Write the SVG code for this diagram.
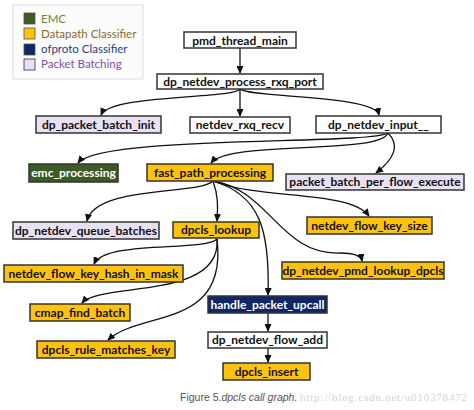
<svg xmlns="http://www.w3.org/2000/svg" width="474" height="410" viewBox="0 0 474 410">
<style>
.n{stroke:#333;stroke-width:1.5}
.w{fill:#ffffff}
.y{fill:#ffc20e}
.p{fill:#e8e0f3}
.g{fill:#3c5a28}
.b{fill:#0f2768}
.t{font-family:Lato,"Open Sans","Liberation Sans",sans-serif;font-weight:bold;font-size:12px;fill:#111;text-anchor:middle}
.tw{fill:#ffffff}
.e{fill:none;stroke:#111;stroke-width:1.3;marker-end:url(#ah)}
.lg{font-family:Lato,"Open Sans","Liberation Sans",sans-serif;font-size:11.5px}
</style>
<defs>
<marker id="ah" markerUnits="userSpaceOnUse" markerWidth="8" markerHeight="7" refX="7" refY="3.5" orient="auto">
<path d="M0,0 L8,3.5 L0,7 z" fill="#111"/>
</marker>
</defs>
<rect width="474" height="410" fill="#ffffff"/>
<g id="legend">
<rect x="13" y="5" width="130" height="74" fill="#fcfcfc" stroke="#dcdcdc" stroke-width="1"/>
<rect x="24" y="13" width="11" height="11" fill="#3c5a28" stroke="#555" stroke-width="0.8"/>
<rect x="24" y="28" width="11" height="11" fill="#ffc20e" stroke="#555" stroke-width="0.8"/>
<rect x="24" y="44" width="11" height="11" fill="#0f2768" stroke="#555" stroke-width="0.8"/>
<rect x="24" y="59" width="11" height="11" fill="#e8e0f3" stroke="#333" stroke-width="0.8"/>
<text class="lg" x="41" y="23" fill="#5e8a42">EMC</text>
<text class="lg" x="41" y="38" fill="#8a6a26">Datapath Classifier</text>
<text class="lg" x="41" y="53" fill="#253f80">ofproto Classifier</text>
<text class="lg" x="41" y="68" fill="#7d4fae">Packet Batching</text>
</g>
<g id="connectors">
<path class="e" d="M240,48 L240,73"/>
<path class="e" d="M240,89 C235,99 110,94 101,115"/>
<path class="e" d="M240,89 L240,116"/>
<path class="e" d="M240,89 C250,98 375,95 379,115"/>
<path class="e" d="M388,133 C370,145 100,135 78,163"/>
<path class="e" d="M388,133 C380,155 230,140 211,163"/>
<path class="e" d="M388,133 C400,145 395,158 376,173"/>
<path class="e" d="M213,181 C200,195 95,185 87,221"/>
<path class="e" d="M213,181 C218,195 218,205 217,221"/>
<path class="e" d="M213,181 C260,200 350,190 369,216"/>
<path class="e" d="M213,181 C270,190 280,255 340,253 C352,253 361,255 362,261"/>
<path class="e" d="M213,181 C260,195 270,230 268,295"/>
<path class="e" d="M217,239 C205,252 105,240 94,264"/>
<path class="e" d="M217,239 C222,300 100,282 82,303"/>
<path class="e" d="M217,239 C228,330 140,310 108,340"/>
<path class="e" d="M268,313 L268,331"/>
<path class="e" d="M268,348 L268,362"/>
</g>
<g id="pmd_thread_main"><rect class="n w" x="184" y="32" width="112" height="16"/><text class="t" x="240" y="44.5">pmd_thread_main</text></g>
<g id="dp_netdev_process_rxq_port"><rect class="n w" x="157" y="74" width="166" height="15"/><text class="t" x="240" y="86">dp_netdev_process_rxq_port</text></g>
<g id="dp_packet_batch_init"><rect class="n p" x="36" y="116" width="125" height="17"/><text class="t" x="98.5" y="128.5">dp_packet_batch_init</text></g>
<g id="netdev_rxq_recv"><rect class="n w" x="190" y="117" width="100" height="16"/><text class="t" x="240" y="129">netdev_rxq_recv</text></g>
<g id="dp_netdev_input__"><rect class="n w" x="316" y="116" width="125" height="17"/><text class="t" x="378.5" y="128.5">dp_netdev_input__</text></g>
<g id="emc_processing"><rect class="n g" x="29" y="164" width="89" height="18"/><text class="t tw" x="73.5" y="177">emc_processing</text></g>
<g id="fast_path_processing"><rect class="n y" x="147" y="164" width="126" height="17"/><text class="t" x="210" y="176.5">fast_path_processing</text></g>
<g id="packet_batch_per_flow_execute"><rect class="n p" x="286" y="174" width="178" height="16"/><text class="t" x="375" y="186">packet_batch_per_flow_execute</text></g>
<g id="dp_netdev_queue_batches"><rect class="n p" x="13" y="222" width="146" height="17"/><text class="t" x="86" y="234.5">dp_netdev_queue_batches</text></g>
<g id="dpcls_lookup"><rect class="n y" x="173" y="222" width="86" height="16"/><text class="t" x="216" y="234">dpcls_lookup</text></g>
<g id="netdev_flow_key_size"><rect class="n y" x="307" y="217" width="125" height="17"/><text class="t" x="369.5" y="229.5">netdev_flow_key_size</text></g>
<g id="netdev_flow_key_hash_in_mask"><rect class="n y" x="4" y="265" width="179" height="17"/><text class="t" x="93.5" y="277.5">netdev_flow_key_hash_in_mask</text></g>
<g id="dp_netdev_pmd_lookup_dpcls"><rect class="n y" x="282" y="262" width="162" height="17"/><text class="t" x="363" y="274.5">dp_netdev_pmd_lookup_dpcls</text></g>
<g id="cmap_find_batch"><rect class="n y" x="30" y="304" width="100" height="17"/><text class="t" x="80" y="316.5">cmap_find_batch</text></g>
<g id="handle_packet_upcall"><rect class="n b" x="208" y="296" width="119" height="17"/><text class="t tw" x="267.5" y="308.5">handle_packet_upcall</text></g>
<g id="dp_netdev_flow_add"><rect class="n w" x="208" y="332" width="119" height="16"/><text class="t" x="267.5" y="344">dp_netdev_flow_add</text></g>
<g id="dpcls_rule_matches_key"><rect class="n y" x="37" y="341" width="138" height="17"/><text class="t" x="106" y="353.5">dpcls_rule_matches_key</text></g>
<g id="dpcls_insert"><rect class="n y" x="223" y="363" width="87" height="17"/><text class="t" x="266.5" y="375.5">dpcls_insert</text></g>
<text x="180" y="401" font-family="Liberation Sans,Arial,sans-serif" font-size="10.5" fill="#555">Figure 5.<tspan font-style="italic">dpcls call graph.</tspan></text>
<text x="300" y="401" font-family="Liberation Serif,serif" font-size="11" fill="#d4d4d4" textLength="167">http://blog.csdn.net/u010378472</text>
</svg>
